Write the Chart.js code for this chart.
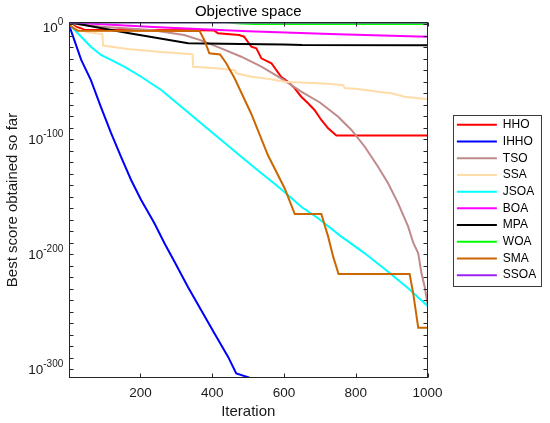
<!DOCTYPE html>
<html>
<head>
<meta charset="utf-8">
<script src="https://cdn.jsdelivr.net/npm/chart.js@4.4.1/dist/chart.umd.min.js"></script>
<style>
html,body{margin:0;padding:0;background:#fff;}
#wrap{width:550px;height:423px;position:relative;}
</style>
</head>
<body>
<div id="wrap"><canvas id="c"></canvas></div>
<script>
// ---------- data ----------
const seriesNames = ['HHO','IHHO','TSO','SSA','JSOA','BOA','MPA','WOA','SMA','SSOA'];
const seriesColors = ['#FF0000','#0000FF','#C08A8A','#FFDCA8','#00FFFF','#FF00FF','#000000','#00FF00','#CC6600','#A020F0'];

const hhoIter = [1, 8, 20, 35, 45, 370, 405, 416, 475, 489, 509, 523, 537, 565, 592, 611, 630, 648, 667, 685, 704, 723, 746, 1000];
const hhoVal  = [10, 2, 7.9e-3, 3.2e-4, 1e-5, 6.3e-6, 5e-6, 1.6e-8, 5e-10, 1.6e-11, 3.2e-20, 1.3e-21, 2.5e-30, 1.3e-34, 2.5e-46, 1.3e-50, 2e-56, 1e-63, 2e-69, 3.2e-75, 6.3e-84, 3.2e-91, 2e-97, 2e-97];

const ihhoIter = [1, 35, 62, 90, 118, 146, 174, 202, 239, 267, 295, 332, 369, 406, 444, 467, 504];
const ihhoVal  = [0.32, 1e-31, 3.2e-49, 1e-72, 3.2e-95, 4e-116, 4e-136, 1.6e-153, 7.9e-174, 3.2e-191, 3.2e-207, 6.3e-229, 3.2e-249, 1.6e-269, 7.9e-290, 2.5e-304, 4e-308];

const tsoIter = [1, 90, 230, 322, 369, 425, 481, 537, 592, 648, 700, 751, 788, 825, 862, 890, 918, 946, 960, 974, 983, 992, 1000];
const tsoVal  = [10, 7.9e-3, 1e-5, 5e-10, 1e-14, 1.3e-21, 6.3e-29, 1.3e-37, 1e-47, 2.5e-59, 1e-68, 4e-81, 1.3e-92, 3.2e-107, 1.3e-124, 5e-139, 2e-156, 1e-176, 1e-190, 6.3e-200, 2.5e-217, 6.3e-229, 4e-244];

const ssaIter = [1, 7, 25, 53, 94, 96, 165, 258, 345, 347, 410, 463, 467, 509, 560, 602, 723, 765, 769, 806, 862, 899, 936, 1000];
const ssaVal  = [3.2, 0.25, 3.2e-5, 1e-7, 3.2e-9, 3.2e-19, 3.2e-22, 1e-24, 1e-26, 1.3e-37, 5e-39, 1e-40, 2.5e-43, 2.5e-46, 3.2e-48, 1.3e-50, 1.6e-52, 1e-53, 3.2e-56, 6.3e-57, 2.5e-59, 1e-60, 1e-63, 6.3e-66];

const jsoaIter = [1, 35, 62, 90, 118, 155, 202, 258, 314, 369, 425, 481, 537, 578, 611, 648, 695, 760, 825, 890, 946, 1000];
const jsoaVal  = [1, 1.6e-11, 3.2e-20, 2e-27, 1e-31, 1.3e-37, 2.5e-46, 7.9e-58, 2e-72, 7.9e-87, 2.5e-101, 6.3e-116, 2.5e-130, 1.6e-140, 3.2e-149, 2e-159, 2e-169, 2e-185, 6.3e-200, 6.3e-216, 2.5e-230, 1e-245];

const boaIter = [1, 250, 500, 750, 1000];
const boaVal  = [32, 3.2e-3, 1e-6, 2.5e-9, 1.6e-11];

const mpaIter = [1, 165, 333, 481, 600, 650, 1000];
const mpaVal  = [63, 2.5e-8, 3.2e-17, 6.3e-18, 3.2e-18, 1e-18, 6.3e-19];

const woaIter = [1, 440, 480, 520, 1000];
const woaVal  = [50, 32, 5, 2, 1.8];

const smaIter = [1, 25, 365, 379, 392, 422, 439, 462, 509, 555, 602, 630, 704, 723, 737, 752, 950, 960, 974, 1000];
const smaVal  = [0.25, 2.5e-6, 1.6e-6, 3.2e-15, 6.3e-26, 5e-27, 1.3e-34, 2e-47, 1e-78, 2e-114, 1.6e-143, 1e-165, 1e-165, 2e-185, 7.9e-203, 6.3e-218, 6.3e-218, 1e-234, 1.3e-264, 1.3e-264];

const ssoaIter = [1, 1000];
const ssoaVal  = [40, 40];

const xTickValues = [200, 400, 600, 800, 1000];
const yTickExponents = [0,-10,-20,-30,-40,-50,-60,-70,-80,-90,-100,-110,-120,-130,-140,-150,-160,-170,-180,-190,-200,-210,-220,-230,-240,-250,-260,-270,-280,-290,-300];
const yLabelExponents = [0, -100, -200, -300];

// ---------- build ----------
const seriesIters = [hhoIter, ihhoIter, tsoIter, ssaIter, jsoaIter, boaIter, mpaIter, woaIter, smaIter, ssoaIter];
const seriesVals  = [hhoVal, ihhoVal, tsoVal, ssaVal, jsoaVal, boaVal, mpaVal, woaVal, smaVal, ssoaVal];

const FONT = "'Liberation Sans', Arial, Helvetica, sans-serif";
const TXT = '#1a1a1a';

const datasets = seriesNames.map((name, i) => ({
  label: name,
  data: seriesIters[i].map((x, k) => ({x: x, y: seriesVals[i][k]})),
  borderColor: seriesColors[i],
  backgroundColor: seriesColors[i],
  borderWidth: 2,
  pointRadius: 0,
  tension: 0,
  fill: false,
  order: -i
}));

const framePlugin = {
  id: 'frame',
  afterDatasetsDraw(chart) {
    const {ctx, chartArea: a, scales} = chart;
    const L = Math.round(a.left) + 0.5, R = Math.round(a.right) - 0.5;
    const T = Math.round(a.top) + 0.5, B = Math.round(a.bottom) - 0.5;
    ctx.save();
    ctx.strokeStyle = '#262626';
    ctx.lineWidth = 1;
    ctx.beginPath();
    scales.x.ticks.forEach(t => {
      const px = Math.round(scales.x.getPixelForValue(t.value)) + 0.5;
      ctx.moveTo(px, B); ctx.lineTo(px, B - 4);
      ctx.moveTo(px, T); ctx.lineTo(px, T + 4);
    });
    scales.y.ticks.forEach(t => {
      const py = Math.round(scales.y.getPixelForValue(t.value)) + 0.5;
      ctx.moveTo(L, py); ctx.lineTo(L + 4, py);
      ctx.moveTo(R, py); ctx.lineTo(R - 4, py);
    });
    ctx.stroke();
    ctx.strokeRect(L, T, R - L, B - T);

    // y tick labels: base "10" with a raised, smaller exponent
    const ys = scales.y;
    const xr = ys.right - 5.7;
    ctx.fillStyle = TXT;
    ctx.textBaseline = 'alphabetic';
    yLabelExponents.forEach(e => {
      const py = ys.getPixelForValue(Math.pow(10, e)) + (e === 0 ? 2.5 : 0);
      ctx.font = "10px " + FONT;
      ctx.textAlign = 'right';
      const expStr = String(e);
      const ew = ctx.measureText(expStr).width;
      ctx.fillText(expStr, xr, py - 2);
      ctx.font = "13.5px " + FONT;
      ctx.fillText('10', xr - ew, py + 4.8);
    });
    ctx.restore();
  },
  afterDraw(chart) {
    const lg = chart.legend;
    if (!lg || !lg.legendHitBoxes || !lg.legendHitBoxes.length) return;
    const hb = lg.legendHitBoxes;
    let l = Infinity, t = Infinity, r = -Infinity, b = -Infinity;
    hb.forEach(h => { l = Math.min(l, h.left); t = Math.min(t, h.top); r = Math.max(r, h.left + h.width); b = Math.max(b, h.top + h.height); });
    const ctx = chart.ctx;
    ctx.save();
    ctx.strokeStyle = '#3a3a3a';
    ctx.lineWidth = 1;
    ctx.strokeRect(Math.round(l - 4.3) + 0.5, Math.round(t - 4.3) + 0.5, Math.round(r - l + 8.6), Math.round(b - t + 8.6));
    ctx.restore();
  }
};

new Chart(document.getElementById('c'), {
  type: 'line',
  data: {datasets: datasets},
  plugins: [framePlugin],
  options: {
    responsive: true,
    maintainAspectRatio: false,
    animation: false,
    events: [],
    layout: {padding: {left: 0, right: 7.4, top: 0, bottom: 0}},
    plugins: {
      title: {
        display: true, text: 'Objective space', fullSize: false, color: '#000',
        font: {family: FONT, size: 15, weight: 'normal'},
        padding: {top: 3, bottom: 1}
      },
      legend: {
        position: 'right', fullSize: false,
        labels: {
          usePointStyle: true, pointStyle: 'line', pointStyleWidth: 40, boxHeight: 12,
          font: {family: FONT, size: 12}, color: '#000', padding: 4.7,
          sort: (a, b) => a.datasetIndex - b.datasetIndex
        }
      },
      tooltip: {enabled: false}
    },
    scales: {
      x: {
        type: 'linear', min: 1, max: 1000,
        grid: {display: false, drawTicks: false},
        border: {display: false},
        afterBuildTicks: s => { s.ticks = xTickValues.map(v => ({value: v})); },
        ticks: {callback: v => String(v), font: {family: FONT, size: 13.5}, color: TXT, padding: 7, maxRotation: 0, autoSkip: false},
        title: {display: true, text: 'Iteration', color: TXT, font: {family: FONT, size: 15}, padding: {top: 0, bottom: 2}},
        afterFit: s => { s.height = 45; }
      },
      y: {
        type: 'logarithmic', min: 2.2e-308, max: 1e2,
        grid: {display: false, drawTicks: false},
        border: {display: false},
        afterBuildTicks: s => { s.ticks = yTickExponents.map(e => ({value: Math.pow(10, e)})); },
        ticks: {autoSkip: false, font: {family: FONT, size: 13.5}, color: TXT, padding: 6, callback: () => ''},
        title: {display: true, text: 'Best score obtained so far', color: TXT, font: {family: FONT, size: 15}, padding: {top: 3.5, bottom: 0}},
        afterFit: s => { s.width = 69; }
      },
      y2: {
        type: 'linear', position: 'right', display: true,
        grid: {display: false, drawTicks: false},
        border: {display: false},
        ticks: {display: false},
        afterFit: s => { s.width = 24.6; }
      }
    }
  }
});
</script>
</body>
</html>
